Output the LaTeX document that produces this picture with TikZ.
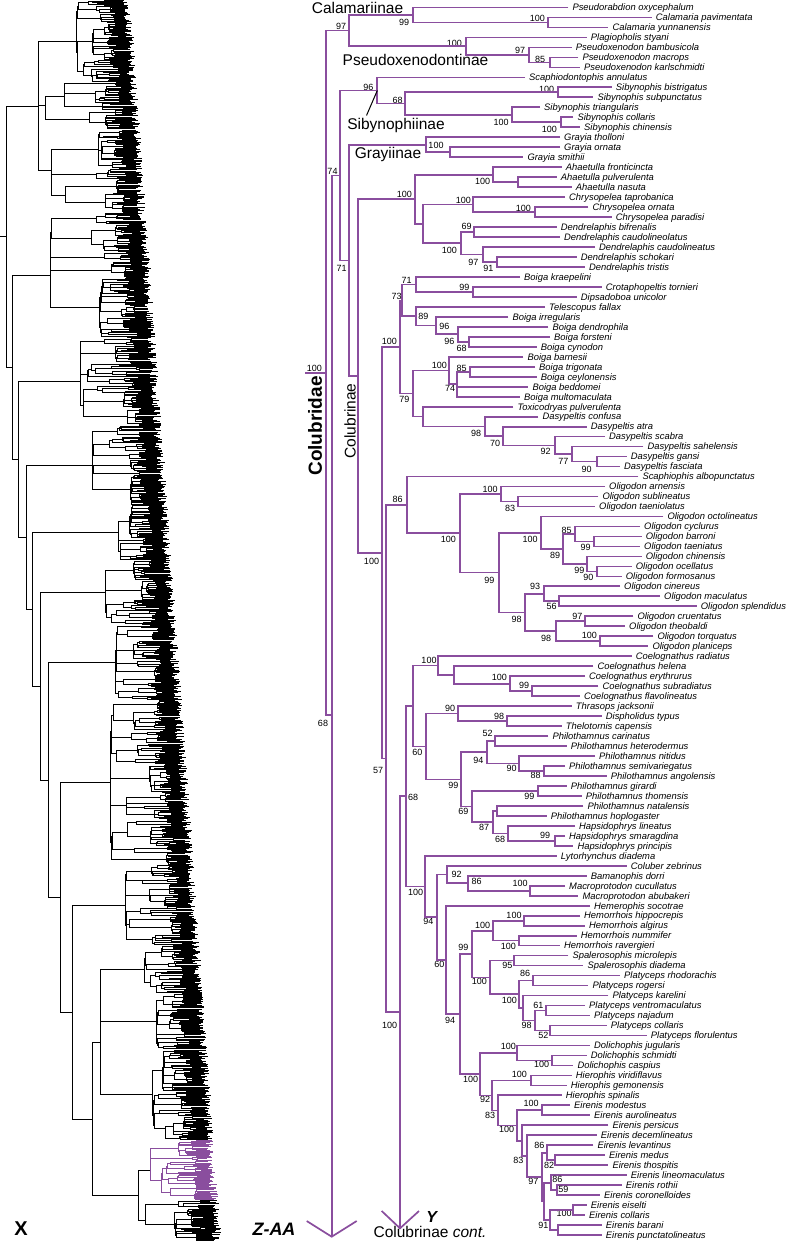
\documentclass[tikz,border=0pt]{standalone}
\usepackage{fontspec}
\setmainfont{Liberation Sans}
\usetikzlibrary{calc}
\definecolor{pp}{RGB}{138,78,158}
\newcommand\tip[3]{%
  \coordinate (t#1) at (#2,{7.5+(#1-1)*9.98});
  \node[sp] (l#1) at ([shift={(4,3.3)}]t#1) {#3};}
\newcommand\cl[7]{%
  \path (#3) -- (#4) coordinate[pos=0.5] (m#1);
  \coordinate (#1) at (#2,0 |- m#1);
  \draw[br] (#3) -- (#1 |- #3) -- (#1 |- #4) -- (#4);
  \if\relax\detokenize{#5}\relax\else\node[bs] (q#1) at (#6,#7) {#5};\fi}
% black backbone clade of the overview tree
\newcommand\bcl[4]{%
  \path (#3) -- (#4) coordinate[pos=0.5] (m#1);
  \coordinate (#1) at (#2,0 |- m#1);
  \draw[lt] (#3) -- (#1 |- #3) -- (#1 |- #4) -- (#4);}
% random dense subtree: node x, y top, y bottom, colour
\newcommand\rt[4]{%
  \pgfmathsetmacro\LTs{#3-#2}%
  \ifdim\LTs pt<1.4pt
    \pgfmathsetmacro\LTy{(#2+#3)/2}%
    \pgfmathsetmacro\LTx{max(#1+1,122+0.073*\LTy+9*rnd)}%
    \draw[lt,#4] (#1,\LTy) -- (\LTx,\LTy);%
  \else
    \pgfmathsetmacro\LTm{#2+(0.15+0.7*rnd)*\LTs}%
    \pgfmathsetmacro\LTya{(#2+\LTm)/2}%
    \pgfmathsetmacro\LTyb{(\LTm+#3)/2}%
    \pgfmathsetmacro\LTxa{max(#1+0.6,124+0.073*\LTya-14*(\LTm-#2)^0.45*(0.45+1.1*rnd))}%
    \pgfmathsetmacro\LTxb{max(#1+0.6,124+0.073*\LTyb-14*(#3-\LTm)^0.45*(0.45+1.1*rnd))}%
    \draw[lt,#4] (\LTxa,\LTya) -- (#1,\LTya) -- (#1,\LTyb) -- (\LTxb,\LTyb);%
    \begingroup\edef\LTnext{\noexpand\rt{\LTxa}{#2}{\LTm}{#4}}\LTnext\endgroup
    \begingroup\edef\LTnext{\noexpand\rt{\LTxb}{\LTm}{#3}{#4}}\LTnext\endgroup
  \fi}
\newcommand\clade[5]{% name, x, ytop, ybot, colour
  \coordinate (#1) at (#2,{(#3+#4)/2});
  \rt{#2}{#3}{#4}{#5}}
\begin{document}
\begin{tikzpicture}[x=1pt,y=-1pt,
  br/.style={draw=pp,line width=1.7pt,line join=miter},
  lt/.style={line width=0.7pt},
  sp/.style={anchor=base west,inner sep=0pt,font=\fontsize{9.4}{10}\selectfont\itshape},
  bs/.style={inner sep=0pt,font=\fontsize{9}{10}\selectfont},
  sub/.style={inner sep=0pt,font=\fontsize{15.5}{16}\selectfont}]
\useasboundingbox (0,0) rectangle (785,1241);
\pgfmathsetseed{11}
% ---------- left overview tree ----------
\clade{C1}{38}{0}{212}{black}
\clade{C2}{50}{212}{338}{black}
\clade{C3}{80}{338}{425}{black}
\clade{C4}{92}{425}{505}{black}
\clade{C5}{118}{505}{560}{black}
\clade{C6}{105}{560}{625}{black}
\clade{C7}{115}{625}{700}{black}
\clade{C8}{110}{700}{865}{black}
\clade{C9}{125}{865}{945}{black}
\clade{C10}{100}{945}{1140}{black}
\clade{C11}{150}{1140}{1200}{pp}
\clade{C12}{145}{1200}{1241}{black}
\bcl{bb11}{138}{C11}{C12}
\bcl{bb10}{92}{C10}{bb11}
\bcl{bb9}{72}{C9}{bb10}
\bcl{bb8}{60}{C8}{bb9}
\bcl{bb7}{48}{C7}{bb8}
\bcl{bb6}{40}{C6}{bb7}
\bcl{bb5}{32}{C5}{bb6}
\bcl{bb4}{26}{C4}{bb5}
\bcl{bb3}{18}{C3}{bb4}
\bcl{bb2}{12}{C2}{bb3}
\bcl{bb1}{6}{C1}{bb2}
\coordinate (L0) at (0,0 |- bb1);
\draw[lt] (L0) -- (bb1);
\node[inner sep=0pt,font=\fontsize{20}{20}\selectfont\bfseries] (X) at (21,1229) {X};
% ---------- tips ----------
\tip{1}{568.3}{Pseudorabdion oxycephalum}
\tip{2}{651.7}{Calamaria pavimentata}
\tip{3}{608.3}{Calamaria yunnanensis}
\tip{4}{586.7}{Plagiopholis styani}
\tip{5}{571.7}{Pseudoxenodon bambusicola}
\tip{6}{578.3}{Pseudoxenodon macrops}
\tip{7}{580}{Pseudoxenodon karlschmidti}
\tip{8}{525}{Scaphiodontophis annulatus}
\tip{9}{611.7}{Sibynophis bistrigatus}
\tip{10}{593.3}{Sibynophis subpunctatus}
\tip{11}{540}{Sibynophis triangularis}
\tip{12}{573.3}{Sibynophis collaris}
\tip{13}{580}{Sibynophis chinensis}
\tip{14}{560}{Grayia tholloni}
\tip{15}{560}{Grayia ornata}
\tip{16}{523.3}{Grayia smithii}
\tip{17}{561.7}{Ahaetulla fronticincta}
\tip{18}{556.7}{Ahaetulla pulverulenta}
\tip{19}{571.7}{Ahaetulla nasuta}
\tip{20}{565}{Chrysopelea taprobanica}
\tip{21}{588.3}{Chrysopelea ornata}
\tip{22}{611.7}{Chrysopelea paradisi}
\tip{23}{556.7}{Dendrelaphis bifrenalis}
\tip{24}{560}{Dendrelaphis caudolineolatus}
\tip{25}{595}{Dendrelaphis caudolineatus}
\tip{26}{576.7}{Dendrelaphis schokari}
\tip{27}{585}{Dendrelaphis tristis}
\tip{28}{520}{Boiga kraepelini}
\tip{29}{601.7}{Crotaphopeltis tornieri}
\tip{30}{576.7}{Dipsadoboa unicolor}
\tip{31}{545}{Telescopus fallax}
\tip{32}{508.3}{Boiga irregularis}
\tip{33}{548.3}{Boiga dendrophila}
\tip{34}{550}{Boiga forsteni}
\tip{35}{536.7}{Boiga cynodon}
\tip{36}{523.3}{Boiga barnesii}
\tip{37}{535}{Boiga trigonata}
\tip{38}{536.7}{Boiga ceylonensis}
\tip{39}{528.3}{Boiga beddomei}
\tip{40}{520}{Boiga multomaculata}
\tip{41}{513.3}{Toxicodryas pulverulenta}
\tip{42}{538.3}{Dasypeltis confusa}
\tip{43}{586.7}{Dasypeltis atra}
\tip{44}{605}{Dasypeltis scabra}
\tip{45}{643.3}{Dasypeltis sahelensis}
\tip{46}{626.7}{Dasypeltis gansi}
\tip{47}{620}{Dasypeltis fasciata}
\tip{48}{638.3}{Scaphiophis albopunctatus}
\tip{49}{605}{Oligodon arnensis}
\tip{50}{598.3}{Oligodon sublineatus}
\tip{51}{595}{Oligodon taeniolatus}
\tip{52}{663.3}{Oligodon octolineatus}
\tip{53}{640}{Oligodon cyclurus}
\tip{54}{641.7}{Oligodon barroni}
\tip{55}{640}{Oligodon taeniatus}
\tip{56}{641.7}{Oligodon chinensis}
\tip{57}{631.7}{Oligodon ocellatus}
\tip{58}{621.7}{Oligodon formosanus}
\tip{59}{620}{Oligodon cinereus}
\tip{60}{660}{Oligodon maculatus}
\tip{61}{696.7}{Oligodon splendidus}
\tip{62}{633.3}{Oligodon cruentatus}
\tip{63}{625}{Oligodon theobaldi}
\tip{64}{653.3}{Oligodon torquatus}
\tip{65}{648.3}{Oligodon planiceps}
\tip{66}{631.7}{Coelognathus radiatus}
\tip{67}{593.3}{Coelognathus helena}
\tip{68}{585}{Coelognathus erythrurus}
\tip{69}{598.3}{Coelognathus subradiatus}
\tip{70}{580}{Coelognathus flavolineatus}
\tip{71}{571.7}{Thrasops jacksonii}
\tip{72}{601.7}{Dispholidus typus}
\tip{73}{561.7}{Thelotornis capensis}
\tip{74}{548.3}{Philothamnus carinatus}
\tip{75}{566.7}{Philothamnus heterodermus}
\tip{76}{595}{Philothamnus nitidus}
\tip{77}{565}{Philothamnus semivariegatus}
\tip{78}{606.7}{Philothamnus angolensis}
\tip{79}{566.7}{Philothamnus girardi}
\tip{80}{581.7}{Philothamnus thomensis}
\tip{81}{583.3}{Philothamnus natalensis}
\tip{82}{546.7}{Philothamnus hoplogaster}
\tip{83}{575}{Hapsidophrys lineatus}
\tip{84}{565}{Hapsidophrys smaragdina}
\tip{85}{573.3}{Hapsidophrys principis}
\tip{86}{556.7}{Lytorhynchus diadema}
\tip{87}{626.7}{Coluber zebrinus}
\tip{88}{586.7}{Bamanophis dorri}
\tip{89}{565}{Macroprotodon cucullatus}
\tip{90}{578.3}{Macroprotodon abubakeri}
\tip{91}{590}{Hemerophis socotrae}
\tip{92}{580}{Hemorrhois hippocrepis}
\tip{93}{585}{Hemorrhois algirus}
\tip{94}{576.7}{Hemorrhois nummifer}
\tip{95}{560}{Hemorrhois ravergieri}
\tip{96}{568.3}{Spalerosophis microlepis}
\tip{97}{583.3}{Spalerosophis diadema}
\tip{98}{620}{Platyceps rhodorachis}
\tip{99}{588.3}{Platyceps rogersi}
\tip{100}{608.3}{Platyceps karelini}
\tip{101}{585}{Platyceps ventromaculatus}
\tip{102}{590}{Platyceps najadum}
\tip{103}{606.7}{Platyceps collaris}
\tip{104}{646.7}{Platyceps florulentus}
\tip{105}{590}{Dolichophis jugularis}
\tip{106}{586.7}{Dolichophis schmidti}
\tip{107}{573.3}{Dolichophis caspius}
\tip{108}{571.7}{Hierophis viridiflavus}
\tip{109}{566.7}{Hierophis gemonensis}
\tip{110}{561.7}{Hierophis spinalis}
\tip{111}{570}{Eirenis modestus}
\tip{112}{590}{Eirenis aurolineatus}
\tip{113}{608.3}{Eirenis persicus}
\tip{114}{596.7}{Eirenis decemlineatus}
\tip{115}{593.3}{Eirenis levantinus}
\tip{116}{605}{Eirenis medus}
\tip{117}{608.3}{Eirenis thospitis}
\tip{118}{626.7}{Eirenis lineomaculatus}
\tip{119}{621.7}{Eirenis rothii}
\tip{120}{600}{Eirenis coronelloides}
\tip{121}{586.7}{Eirenis eiselti}
\tip{122}{585}{Eirenis collaris}
\tip{123}{601.7}{Eirenis barani}
\tip{124}{601.7}{Eirenis punctatolineatus}
% ---------- Calamariinae / Pseudoxenodontinae ----------
\cl{c1}{548.3}{t2}{t3}{100}{537.3}{18.3}
\cl{c2}{412.7}{t1}{c1}{99}{404}{22.7}
\cl{p1}{550}{t6}{t7}{85}{540}{59}
\cl{p2}{529.3}{t5}{p1}{97}{520}{50}
\cl{p3}{466}{t4}{p2}{100}{454.3}{43.3}
\cl{cp}{349.3}{c2}{p3}{97}{341}{26.7}
% ---------- Sibynophiinae ----------
\cl{s1}{558.3}{t9}{t10}{100}{546.7}{89.3}
\cl{s2}{560.7}{t12}{t13}{100}{549.3}{129.3}
\cl{s3}{511.7}{t11}{s2}{100}{501}{122.3}
\cl{s4}{405}{s1}{s3}{68}{397.7}{100}
\cl{s5}{377.3}{t8}{s4}{96}{368.3}{87.3}
% ---------- Grayiinae ----------
\cl{g1}{450}{t15}{t16}{100}{436}{145.7}
\cl{g2}{426}{t14}{g1}{}{}{}
% ---------- Colubrinae ----------
\cl{a1}{518.3}{t18}{t19}{}{}{}
\cl{a2}{493.3}{t17}{a1}{100}{482.7}{181.7}
\cl{ch1}{535}{t21}{t22}{100}{523.3}{208.3}
\cl{ch2}{472.7}{t20}{ch1}{100}{463.3}{200}
\cl{d1}{474.3}{t23}{t24}{69}{466.7}{226}
\cl{d2}{496.7}{t26}{t27}{91}{488.3}{268.3}
\cl{d3}{482.7}{t25}{d2}{97}{473.3}{262.3}
\cl{d4}{461}{d1}{d3}{100}{449.3}{250.7}
\cl{cd}{423.3}{ch2}{d4}{}{}{}
\cl{A}{415}{a2}{cd}{100}{404.3}{194.3}
\cl{b1}{472.7}{t29}{t30}{99}{464.3}{287.7}
\cl{b2}{415.7}{t28}{b1}{71}{406.7}{280}
\cl{b3}{469}{t34}{t35}{68}{461.7}{348.3}
\cl{b4}{458.3}{t33}{b3}{96}{449.3}{341.7}
\cl{b5}{436}{t32}{b4}{96}{444.3}{326}
\cl{b6}{416}{t31}{b5}{89}{423.3}{316.7}
\cl{b7}{401.7}{b2}{b6}{73}{396.7}{296}
\cl{b8}{470}{t37}{t38}{85}{461.7}{368.3}
\cl{b9}{456.7}{b8}{t40}{74}{450}{388.3}
\draw[br] (b9 |- t39) -- (t39);
\cl{b10}{449}{t36}{b9}{100}{439.3}{365}
\cl{ds1}{596.7}{t46}{t47}{90}{586.7}{469}
\cl{ds2}{571.7}{t45}{ds1}{77}{563.3}{461}
\cl{ds3}{555}{t44}{ds2}{92}{545.7}{451.7}
\cl{ds4}{503.3}{t43}{ds3}{70}{495}{443.3}
\cl{ds5}{485}{t42}{ds4}{98}{476}{433.3}
\cl{ds6}{423.3}{t41}{ds5}{}{}{}
\cl{b11}{412.7}{b10}{ds6}{79}{404.3}{399}
\cl{B1}{400}{b7}{b11}{100}{389.3}{341.7}
\cl{o1}{518.3}{t50}{t51}{83}{510}{508.3}
\cl{o2}{501}{t49}{o1}{100}{490}{489.3}
\cl{o3}{594}{t54}{t55}{99}{585.7}{547.7}
\cl{o4}{575}{t53}{o3}{85}{566.7}{530}
\cl{o5}{596.7}{t57}{t58}{90}{588.3}{577.3}
\cl{o6}{587.3}{t56}{o5}{99}{579.3}{570}
\cl{o7}{563.3}{o4}{o6}{89}{555}{555}
\cl{o8}{540.7}{t52}{o7}{100}{530}{539.3}
\cl{o9}{559.3}{t60}{t61}{56}{551.7}{606.7}
\cl{o10}{544.3}{t59}{o9}{93}{535}{586.7}
\cl{o11}{585}{t62}{t63}{97}{577.3}{616}
\cl{o12}{600}{t64}{t65}{100}{589.3}{635}
\cl{o13}{555.7}{o11}{o12}{98}{546}{638.3}
\cl{o14}{525}{o10}{o13}{98}{516.7}{619}
\cl{o15}{499.3}{o8}{o14}{99}{489.3}{580}
\cl{o16}{460}{o2}{o15}{100}{448.3}{539.3}
\cl{o17}{406.7}{t48}{o16}{86}{397.7}{499}
\cl{co1}{531.7}{t69}{t70}{99}{524}{685}
\cl{co2}{510}{t68}{co1}{100}{499.3}{677.3}
\cl{co3}{454}{t67}{co2}{}{}{}
\cl{co4}{438.3}{t66}{co3}{100}{429}{660.7}
\cl{th1}{506.7}{t72}{t73}{98}{499}{716}
\cl{th2}{458.3}{t71}{th1}{90}{450}{708.3}
\cl{ph1}{495}{t74}{t75}{52}{487.7}{733.3}
\cl{ph2}{544}{t77}{t78}{88}{535.7}{775.7}
\cl{ph3}{519}{t76}{ph2}{90}{511.7}{768.3}
\cl{ph4}{486.7}{ph1}{ph3}{94}{478.3}{760}
\cl{ph5}{538.3}{t79}{t80}{99}{529.3}{796.7}
\cl{ph6}{496.7}{t81}{t82}{}{}{}
\cl{hp1}{555}{t84}{t85}{99}{545}{835}
\cl{hp2}{508.3}{t83}{hp1}{68}{500}{839.3}
\cl{ph7}{493.3}{ph6}{hp2}{87}{484}{827.3}
\cl{ph8}{471.7}{ph5}{ph7}{69}{463.3}{811.7}
\cl{ph9}{461}{ph4}{ph8}{99}{453.3}{785}
\cl{af}{426}{th2}{ph9}{60}{417.3}{752.3}
\cl{X1}{412.7}{co4}{af}{}{}{}
\cl{m1}{530}{t89}{t90}{100}{520}{883.3}
\cl{m2}{468.3}{t88}{m1}{86}{476.7}{881}
\cl{m3}{446.7}{t87}{m2}{92}{456.7}{874}
\cl{hm1}{524.3}{t92}{t93}{100}{514}{915}
\cl{hm2}{519}{t94}{t95}{100}{508.3}{946}
\cl{hm3}{493.3}{hm1}{hm2}{100}{482.7}{925}
\cl{sp1}{514.3}{t96}{t97}{95}{507.3}{965.7}
\cl{pl1}{533.3}{t98}{t99}{86}{525}{973.3}
\cl{pl2}{545.7}{t101}{t102}{61}{538.3}{1005}
\cl{pl3}{550}{t103}{t104}{52}{543.3}{1035.7}
\cl{pl4}{535}{pl2}{pl3}{98}{526.7}{1025}
\cl{pl5}{522.7}{t100}{pl4}{}{}{}
\cl{pl6}{519}{pl1}{pl5}{100}{509.3}{1000}
\cl{sp2}{490}{sp1}{pl6}{100}{479.3}{981.7}
\cl{h99}{471.7}{hm3}{sp2}{99}{463.3}{947.7}
\cl{dl1}{552.3}{t106}{t107}{100}{541.7}{1064.3}
\cl{dl2}{517.3}{t105}{dl1}{100}{508.3}{1046.7}
\cl{hi1}{530.7}{t108}{t109}{100}{519.3}{1074}
\cl{e1}{542.3}{t111}{t112}{100}{531}{1103.3}
\cl{e2}{555}{t116}{t117}{82}{549}{1165}
\cl{e3}{547.3}{t115}{e2}{86}{539.3}{1145}
\cl{e4}{556.7}{t119}{t120}{59}{563.3}{1189.3}
\cl{e5}{550.7}{t118}{e4}{86}{557.3}{1179}
\cl{e6}{573.3}{t121}{t122}{100}{564}{1213.3}
\cl{e7}{558.3}{t123}{t124}{}{}{}
\cl{e8}{550}{e6}{e7}{91}{543.3}{1225.7}
\cl{e9}{544.3}{e5}{e8}{}{}{}
\cl{e10}{541.7}{e3}{e9}{97}{533.3}{1181.7}
\cl{e11}{526.7}{t114}{e10}{83}{518.3}{1160}
\cl{e12}{522}{t113}{e11}{}{}{}
\cl{e13}{517.3}{e1}{e12}{100}{506.7}{1129.3}
\cl{e14}{498.3}{t110}{e13}{83}{490}{1115}
\cl{e15}{491.7}{hi1}{e14}{92}{485}{1099.3}
\cl{e16}{480}{dl2}{e15}{100}{470.7}{1079}
\cl{n94b}{460}{h99}{e16}{94}{450}{1020}
\cl{n60b}{446}{t91}{n94b}{60}{439.3}{964.3}
\cl{n94}{437.3}{m3}{n60b}{94}{428.3}{921.7}
\cl{ly}{425}{t86}{n94}{100}{415.7}{892.3}
\cl{n68b}{406}{X1}{ly}{68}{413}{797}
\coordinate (Yt) at (400,1228.3);
\cl{ny}{400}{n68b}{Yt}{100}{389.7}{1025}
\cl{n57}{386}{o17}{ny}{57}{378}{770}
\cl{B}{381.7}{B1}{n57}{100}{371.5}{561}
\cl{col}{358.3}{A}{B}{}{}{}
\cl{n71}{349.3}{g2}{col}{71}{341.7}{268.3}
\cl{n74}{340}{s5}{n71}{74}{332.5}{171.7}
\coordinate (n68a) at (331.7,715);
\coordinate (Zt) at (331.7,1236.7);
\draw[br] (n74) -- (n68a |- n74) -- (Zt);
\node[bs] (q68a) at (323,723) {68};
\cl{root}{326}{cp}{n68a}{100}{314.3}{368.3}
\coordinate (r0) at (305,0 |- root);
\draw[br] (r0) -- (root);
% arrows
\coordinate (Za) at (306.7,1221); \coordinate (Zb) at (356.7,1221);
\draw[br] (Za) -- (Zt) -- (Zb);
\coordinate (Ya) at (381.7,1211); \coordinate (Yb) at (419,1211);
\draw[br] (Ya) -- (Yt) -- (Yb);
% group labels
\node[sub] (Lcal) at (357.5,8.3) {Calamariinae};
\node[sub] (Lpx) at (415.5,60) {Pseudoxenodontinae};
\node[sub] (Lsib) at (396,125) {Sibynophiinae};
\draw[line width=1pt] (366.5,115.5) -- (s5 |- 0,90.5);
\node[sub] (Lgr) at (388,154) {Grayiinae};
\node[inner sep=0pt,rotate=90,font=\fontsize{19}{20}\selectfont\bfseries] (Lcold) at (315,426) {Colubridae};
\node[sub,rotate=90] (Lcolr) at (350,421) {Colubrinae};
\node[inner sep=0pt,font=\fontsize{18}{18}\selectfont\bfseries\itshape] (LZ) at (274,1229) {Z-AA};
\node[inner sep=0pt,font=\fontsize{16}{16}\selectfont\bfseries\itshape] (LY) at (431.7,1217.3) {Y};
\node[sub] (Lcc) at (430,1232) {Colubrinae \textit{cont.}};
\end{tikzpicture}
\end{document}
